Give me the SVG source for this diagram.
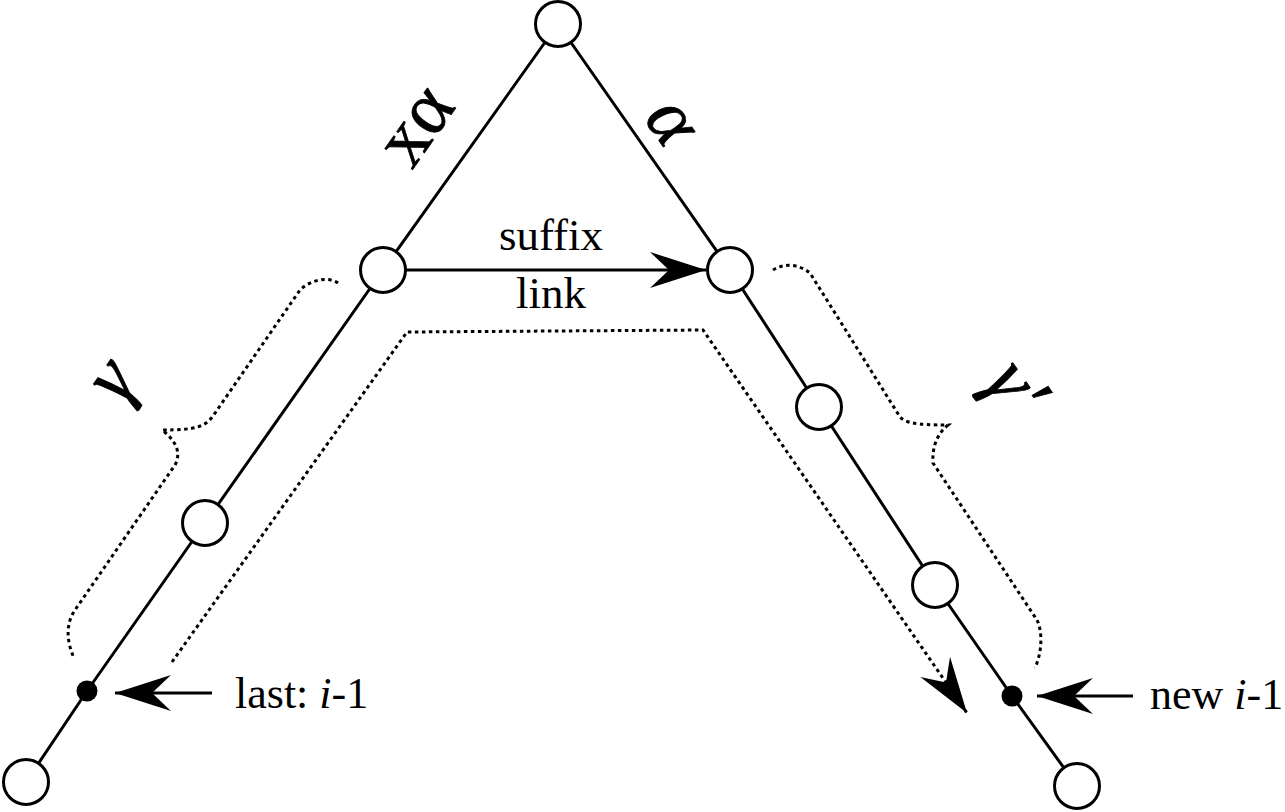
<svg xmlns="http://www.w3.org/2000/svg" width="1285" height="812" viewBox="0 0 1285 812">
<style>
.edge{stroke:#000;stroke-width:3;fill:none}
.dot{stroke:#000;stroke-width:3;fill:none;stroke-dasharray:3.5 3.5}
.node{fill:#fff;stroke:#000;stroke-width:3}
.pt{fill:#000}
.t{font-family:"Liberation Serif","Times New Roman",serif;fill:#000}
.g{stroke:#000;stroke-width:0.8}
</style>
<defs>
<marker id="ah" markerUnits="userSpaceOnUse" markerWidth="62" markerHeight="44" viewBox="-60 -22 62 44" refX="0" refY="0" orient="auto">
<path d="M0,0 L-56,-18 L-37,0 L-56,18 Z" fill="#000"/>
</marker>
</defs>
<rect width="1285" height="812" fill="#fff"/>
<g id="connectors">
<polyline class="edge" points="558,24 383,270 205,523 87,691 26,782"/>
<polyline class="edge" points="558,24 730,270 819,407 935,585 1012,696 1077,786"/>
<line class="edge" x1="406" y1="270" x2="706" y2="270" marker-end="url(#ah)"/>
<line class="edge" x1="212" y1="693" x2="115" y2="693" marker-end="url(#ah)"/>
<line class="edge" x1="1133" y1="696" x2="1037" y2="696" marker-end="url(#ah)"/>
<polyline class="dot" points="172,662 407,332 703,330 967,713" marker-end="url(#ah)"/>
<path class="dot" d="M338,283 C328,276 310,280 300,290 L213,416 C205,427 195,430 162,430 C175,440 182,452 175,465 L75,610 C66,623 66,640 74,658"/>
<path class="dot" d="M773,270 C785,262 800,265 810,273 L900,417 C906,423 915,425 948,425 C937,434 932,447 933,463 L1037,620 C1042,630 1043,650 1035,668"/>
</g>
<g id="n_top"><circle class="node" cx="558" cy="24" r="22.5"/></g>
<g id="n_lmid"><circle class="node" cx="383" cy="270" r="22.5"/></g>
<g id="n_rmid"><circle class="node" cx="730" cy="270" r="22.5"/></g>
<g id="n_llow"><circle class="node" cx="205" cy="523" r="22.5"/></g>
<g id="n_r1"><circle class="node" cx="819" cy="407" r="22.5"/></g>
<g id="n_r2"><circle class="node" cx="935" cy="585" r="22.5"/></g>
<g id="n_lbot"><circle class="node" cx="26" cy="782" r="22.5"/></g>
<g id="n_rbot"><circle class="node" cx="1077" cy="786" r="22.5"/></g>
<g id="p_last"><circle class="pt" cx="87" cy="691" r="10.5"/></g>
<g id="p_new"><circle class="pt" cx="1012" cy="696" r="10.5"/></g>
<g id="labels">
<text class="t" x="551" y="250" font-size="45" text-anchor="middle">suffix</text>
<text class="t" x="551" y="308" font-size="45" text-anchor="middle">link</text>
<text class="t" x="235" y="708" font-size="44">last: <tspan font-style="italic">i</tspan>-1</text>
<text class="t" x="1150" y="709" font-size="44">new <tspan font-style="italic">i</tspan>-1</text>
<text class="t g" x="414" y="124" dy="0.33em" font-size="76" text-anchor="middle" transform="rotate(-55 414 124)">xα</text>
<text class="t g" x="675" y="120" dy="0.33em" font-size="76" font-style="italic" text-anchor="middle" transform="rotate(55 675 120)">α</text>
<text class="t g" x="123" y="388" dy="0.12em" font-size="78" font-style="italic" text-anchor="middle" transform="rotate(-55 123 388)">γ</text>
<text class="t g" x="1004" y="396" dy="0.12em" font-size="78" font-style="italic" text-anchor="middle" transform="rotate(55 1004 396)">γ′</text>
</g>
</svg>
